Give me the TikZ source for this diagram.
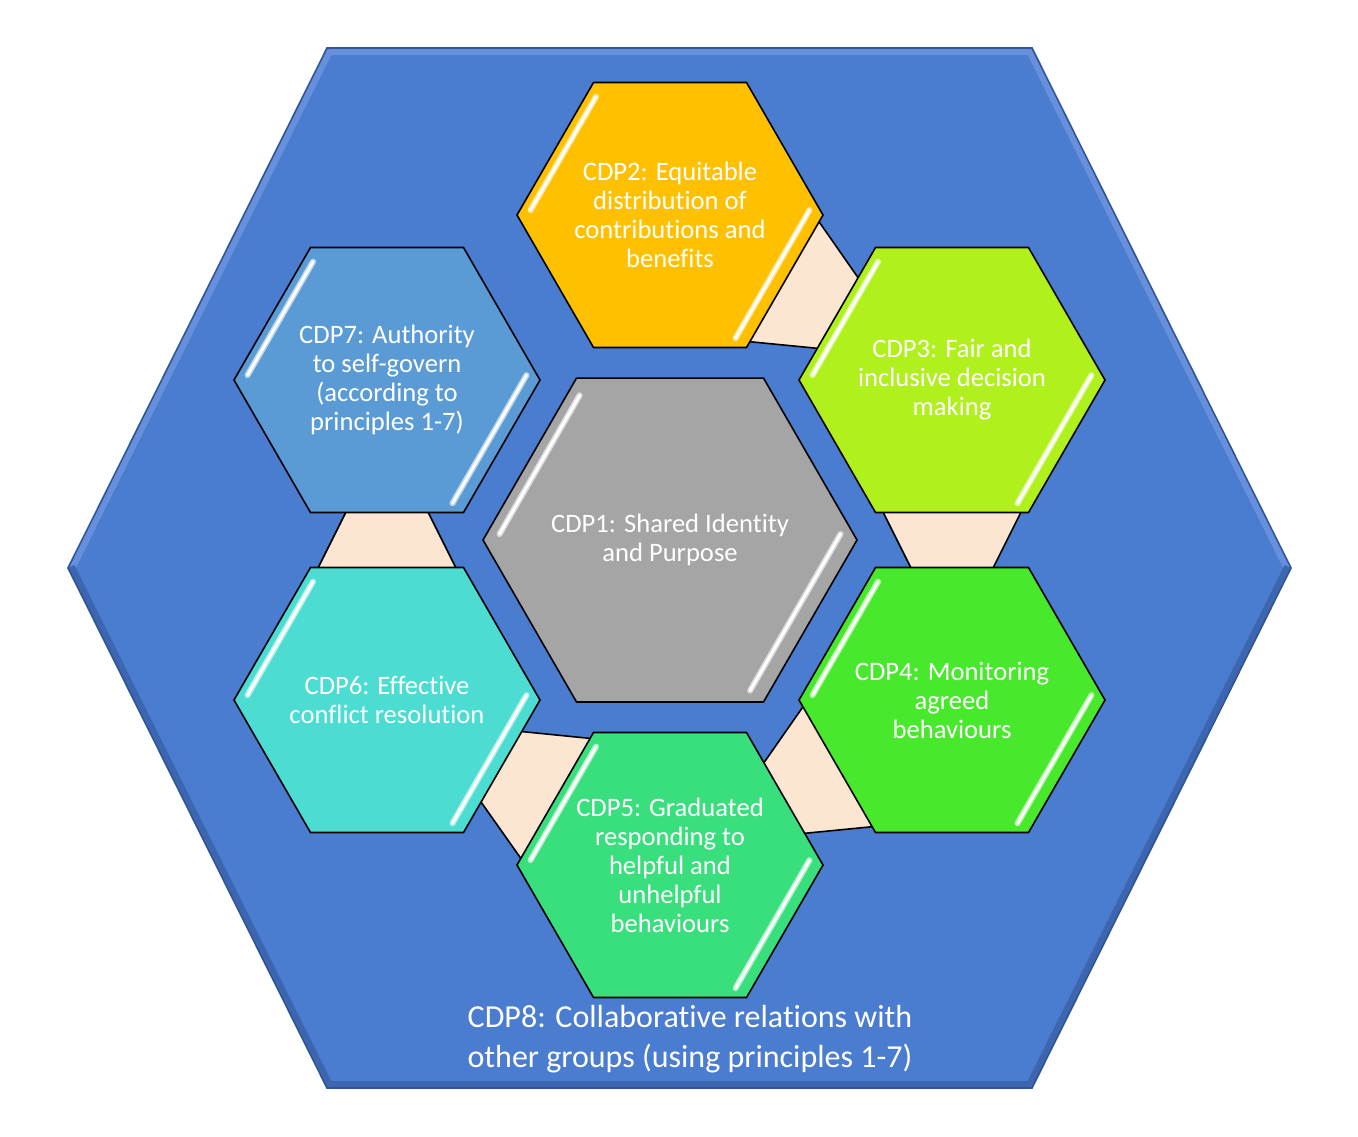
\documentclass[tikz,border=0pt]{standalone}
\usepackage{fontspec}
\setmainfont{Carlito}[Ligatures=NoCommon]
\usepackage{tikz}
\usetikzlibrary{calc,shapes.geometric}
\definecolor{cdpOuter}{HTML}{4A7CD0}
\definecolor{cdpOuterBd}{HTML}{2F5597}
\definecolor{cdpOuterLt}{HTML}{6690DC}
\definecolor{cdpOuterDk}{HTML}{3D66B0}
\definecolor{cdpOne}{HTML}{A5A5A5}
\definecolor{cdpTwo}{HTML}{FFC000}
\definecolor{cdpThree}{HTML}{B0F01C}
\definecolor{cdpFour}{HTML}{48E82C}
\definecolor{cdpFive}{HTML}{39DF7C}
\definecolor{cdpSix}{HTML}{4CDCD2}
\definecolor{cdpSeven}{HTML}{5B9BD5}
\definecolor{cdpLink}{HTML}{FCE5D1}
\pgfdeclarelayer{back}
\pgfdeclarelayer{links}
\pgfsetlayers{back,links,main}
\tikzset{
  hexa/.style={
    regular polygon, regular polygon sides=6, draw=black, line width=0.8pt,
    minimum size=153pt, inner sep=-25pt, outer sep=0pt,
    align=center, text=white,
    font=\fontsize{13.3pt}{14.5pt}\selectfont
  },
  core/.style={hexa, minimum size=187pt},
  link/.style={fill=cdpLink, draw=black, line width=0.8pt},
  shine/.style={line width=3pt, line cap=round},
  caption/.style={align=center, text=white, font=\fontsize{16pt}{19.75pt}\selectfont}
}
% trapezoid joining two hexagons, wide at the first one
\newcommand{\cdplink}[2]{%
  \draw[link] ($(#1.center)!60pt!(#2.center)!37.5pt!90:(#2.center)$)
    -- ($(#1.center)!60pt!(#2.center)!37.5pt!-90:(#2.center)$)
    -- ($(#2.center)!60pt!(#1.center)!17.5pt!90:(#1.center)$)
    -- ($(#2.center)!60pt!(#1.center)!17.5pt!-90:(#1.center)$) -- cycle;}
% glossy stripes on the upper left and lower right sides
\newcommand{\cdpshine}[2]{%
  \draw[shine, draw=#2!40!white] ($(#1.center)!0.93!(#1.178)$) -- ($(#1.center)!0.93!(#1.122)$);
  \draw[shine, draw=#2!40!white] ($(#1.center)!0.93!(#1.2)$) -- ($(#1.center)!0.93!(#1.298)$);
  \draw[shine, line width=1.4pt, draw=white] ($(#1.center)!0.93!(#1.178)$) -- ($(#1.center)!0.93!(#1.122)$);
  \draw[shine, line width=1.4pt, draw=white] ($(#1.center)!0.93!(#1.2)$) -- ($(#1.center)!0.93!(#1.298)$);}
\begin{document}
\begin{tikzpicture}[x=0.5pt, y=-0.5pt]
  \useasboundingbox (0,0) rectangle (1358,1136);

  % --- principles
  \node[core, fill=cdpOne]   (h1) at (670,540) {CDP1: Shared Identity\\and Purpose};
  \node[hexa, fill=cdpTwo]   (h2) at (670,215) {CDP2: Equitable\\distribution of\\contributions and\\benefits};
  \node[hexa, fill=cdpThree] (h3) at (952,380) {CDP3: Fair and\\inclusive decision\\making};
  \node[hexa, fill=cdpFour]  (h4) at (952,700) {CDP4: Monitoring\\agreed\\behaviours};
  \node[hexa, fill=cdpFive]  (h5) at (670,865) {CDP5: Graduated\\responding to\\helpful and\\unhelpful\\behaviours};
  \node[hexa, fill=cdpSix]   (h6) at (387,700) {CDP6: Effective\\conflict resolution};
  \node[hexa, fill=cdpSeven] (h7) at (387,380) {CDP7: Authority\\to self-govern\\(according to\\principles 1-7)};

  \node[caption] (h8) at (690,1039) {CDP8: Collaborative relations with\\other groups (using principles 1-7)};

  \cdpshine{h1}{cdpOne}
  \cdpshine{h2}{cdpTwo}
  \cdpshine{h3}{cdpThree}
  \cdpshine{h4}{cdpFour}
  \cdpshine{h5}{cdpFive}
  \cdpshine{h6}{cdpSix}
  \cdpshine{h7}{cdpSeven}

  % --- links between neighbours
  \begin{pgfonlayer}{links}
    \cdplink{h2}{h3}
    \cdplink{h3}{h4}
    \cdplink{h4}{h5}
    \cdplink{h5}{h6}
    \cdplink{h6}{h7}
  \end{pgfonlayer}

  % --- outer hexagon (CDP8)
  \begin{pgfonlayer}{back}
    \fill[cdpOuter] (68,568) -- (327,48) -- (1032,48) -- (1291,568) -- (1032,1088) -- (327,1088) -- cycle;
    \begin{scope}
      \clip (68,568) -- (327,48) -- (1032,48) -- (1291,568) -- (1032,1088) -- (327,1088) -- cycle;
      \draw[line width=7pt, cdpOuterLt] (68,568) -- (327,48) -- (1032,48) -- (1291,568);
      \draw[line width=7pt, cdpOuterDk] (1291,568) -- (1032,1088) -- (327,1088) -- (68,568);
    \end{scope}
    \draw[line width=0.8pt, cdpOuterBd] (68,568) -- (327,48) -- (1032,48) -- (1291,568) -- (1032,1088) -- (327,1088) -- cycle;
  \end{pgfonlayer}
\end{tikzpicture}
\end{document}
